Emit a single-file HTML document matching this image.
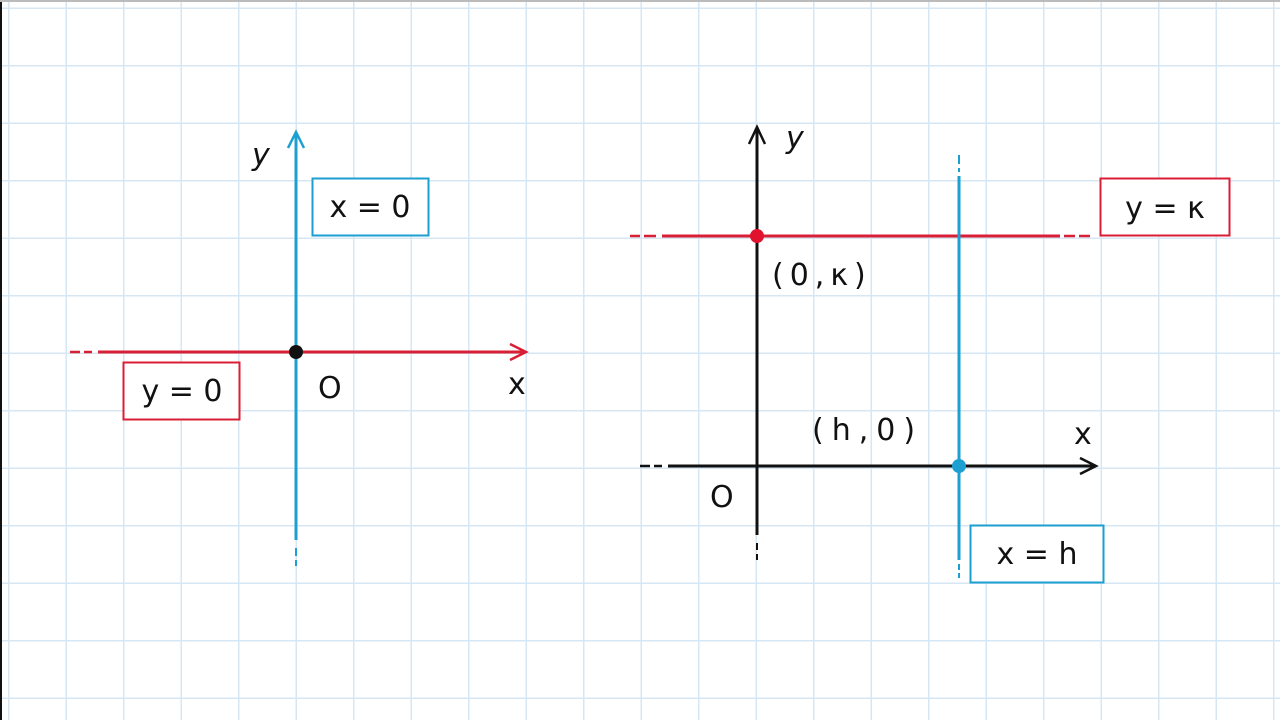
<!DOCTYPE html>
<html><head><meta charset="utf-8"><style>
html,body{margin:0;padding:0;background:#fff}
svg{display:block}
text{font-family:"DejaVu Sans","Liberation Sans",sans-serif;font-size:30px;fill:#111}
</style></head><body>
<svg width="1280" height="720" viewBox="0 0 1280 720" xmlns="http://www.w3.org/2000/svg">
<defs>
<pattern id="g" x="8" y="7.5" width="57.5" height="57.5" patternUnits="userSpaceOnUse">
<path d="M0 0V57.5M0 0H57.5" stroke="#d6e7f3" stroke-width="3" fill="none"/>
</pattern>
</defs>
<rect width="1280" height="720" fill="#fff"/>
<rect width="1280" height="720" fill="url(#g)"/>
<rect x="0" y="0" width="2" height="720" fill="#111"/>
<rect x="0" y="0" width="1280" height="2" fill="#bbb"/>

<!-- LEFT -->
<line x1="296" y1="134" x2="296" y2="540" stroke="#1e9fd2" stroke-width="3"/>
<path d="M296 548V556M296 560V566" stroke="#1e9fd2" stroke-width="2"/>
<path d="M288 148L296 132L304 148" stroke="#1e9fd2" stroke-width="2.5" fill="none"/>
<line x1="98" y1="352" x2="524" y2="352" stroke="#d81f36" stroke-width="3"/>
<path d="M70 352H80M84 352H92" stroke="#d81f36" stroke-width="2.5"/>
<path d="M510 344L526 352L510 360" stroke="#d81f36" stroke-width="2.5" fill="none"/>
<circle cx="296" cy="352" r="7" fill="#111"/>
<text x="252" y="165" font-size="34" font-style="italic">y</text>
<text x="318" y="398" font-size="32">O</text>
<text x="508" y="394" font-size="28">x</text>
<rect x="312.5" y="178.5" width="116" height="57" fill="#fff" stroke="#1e9fd2" stroke-width="2"/>
<text x="370" y="217" text-anchor="middle" font-size="32">x = 0</text>
<rect x="123.5" y="362.5" width="116" height="57" fill="#fff" stroke="#d81f36" stroke-width="2"/>
<text x="182" y="401" text-anchor="middle" font-size="32">y = 0</text>

<!-- RIGHT -->
<line x1="757" y1="128" x2="757" y2="535" stroke="#111" stroke-width="3"/>
<path d="M757 543V550M757 554V560" stroke="#111" stroke-width="2"/>
<path d="M749 144L757 127L765 144" stroke="#111" stroke-width="2.5" fill="none"/>
<line x1="668" y1="466" x2="1094" y2="466" stroke="#111" stroke-width="3"/>
<path d="M640 466H650M654 466H662" stroke="#111" stroke-width="2.5"/>
<path d="M1080 458L1096 466L1080 474" stroke="#111" stroke-width="2.5" fill="none"/>
<line x1="662" y1="236" x2="1060" y2="236" stroke="#d81f36" stroke-width="3"/>
<path d="M630 236H640M644 236H656M1064 236H1075M1079 236H1090" stroke="#d81f36" stroke-width="2.5"/>
<line x1="959" y1="176" x2="959" y2="560" stroke="#1e9fd2" stroke-width="3"/>
<path d="M959 155V164M959 168V172M959 564V570M959 573V578" stroke="#1e9fd2" stroke-width="2"/>
<circle cx="757" cy="236" r="7" fill="#e0122e"/>
<circle cx="959" cy="466" r="7" fill="#1e9fd2"/>
<text x="786" y="148" font-size="34" font-style="italic">y</text>
<text x="772" y="285" font-size="34" letter-spacing="6">(0,κ)</text>
<text x="812" y="440" font-size="34" letter-spacing="8">(h,0)</text>
<text x="1074" y="444" font-size="28">x</text>
<text x="710" y="507" font-size="32">O</text>
<rect x="1100.5" y="178.5" width="129" height="57" fill="#fff" stroke="#d81f36" stroke-width="2"/>
<text x="1165" y="218" text-anchor="middle" font-size="34">y = κ</text>
<rect x="970.5" y="525.5" width="133" height="57" fill="#fff" stroke="#1e9fd2" stroke-width="2"/>
<text x="1037" y="564" text-anchor="middle" font-size="32">x = h</text>
</svg>
</body></html>
